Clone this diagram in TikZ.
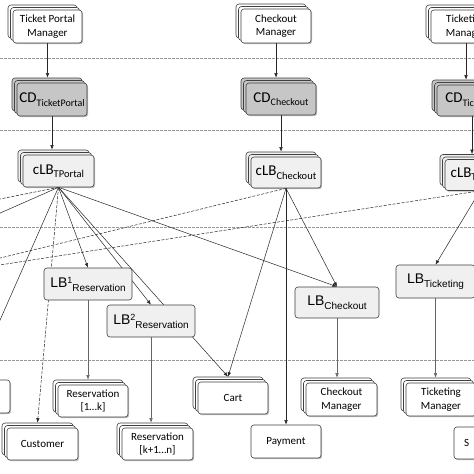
\documentclass[tikz,border=0pt]{standalone}
\usepackage{fontspec}
\setmainfont{Carlito}
\newfontfamily\arialf{Liberation Sans}
\usetikzlibrary{shadows,arrows.meta,calc}
\pgfdeclarelayer{background}
\pgfsetlayers{background,main}
\newcommand\cdlab[2]{{\fontsize{15}{15}\selectfont #1}\raisebox{-3.5pt}{\fontsize{10}{10}\selectfont #2}}
\newcommand\clblab[1]{{\fontsize{15}{15}\selectfont cLB}\raisebox{-3.5pt}{\fontsize{10.5}{10.5}\selectfont #1}}
\newcommand\lblab[2]{{\arialf\fontsize{14}{14}\selectfont LB}\raisebox{4.5pt}{\arialf\fontsize{9}{9}\selectfont #1}\raisebox{-3.5pt}{\arialf\fontsize{10}{10}\selectfont #2}}
\colorlet{linec}{black!75}
\tikzset{
  box/.style={draw=linec, line width=0.6pt, rounded corners=3pt, inner sep=0pt, align=center,
    font=\fontsize{11}{13.5}\selectfont},
  wbox/.style={box, fill=white,
    general shadow={shadow xshift=1.2pt,shadow yshift=-1.2pt,fill=black,opacity=0.25,draw=none}},
  stackbox/.style={box, fill=#1,
    general shadow={shadow xshift=1.2pt,shadow yshift=-1.2pt,fill=black,opacity=0.25,draw=none},
    general shadow={shadow xshift=-5pt,shadow yshift=5pt,draw=linec,line width=0.6pt,fill=#1},
    general shadow={shadow xshift=-2.5pt,shadow yshift=2.5pt,draw=linec,line width=0.6pt,fill=#1}},
  stackw/.style={stackbox=white},
  stackg/.style={stackbox=gray!45},
  stackt/.style={stackbox=gray!12},
  lbbox/.style={box, fill=gray!12},
  conn/.style={draw=black!85, line width=0.5pt, -{Latex[length=4.5pt,width=3.5pt]}},
  plain/.style={draw=black!85, line width=0.5pt},
  dconn/.style={draw=black!85, line width=0.5pt, dash pattern=on 3pt off 1.5pt},
  thinc/.style={draw=black!60, line width=0.5pt, -{Latex[length=4.5pt,width=3.5pt]}},
  sep/.style={draw=gray!80, line width=0.5pt, dash pattern=on 2.5pt off 1.5pt},
}
\begin{document}
\begin{tikzpicture}[x=1pt,y=-1pt]
\useasboundingbox (0,0) rectangle (474,474);
\clip (0,0) rectangle (474,474);

% top row
\node[stackw, minimum width=69pt, minimum height=33pt] (tpm) at (47.5,26.5) {Ticket Portal\\Manager};
\node[stackg, minimum width=70pt, minimum height=33pt] (cdtp) at (52,99.5) {\cdlab{CD}{TicketPortal}};
\node[stackt, minimum width=71pt, minimum height=32pt] (clbtp) at (58.5,171) {\clblab{TPortal}};
\node[stackw, minimum width=70pt, minimum height=34pt] (chm) at (276,26) {Checkout\\Manager};
\node[stackg, minimum width=70pt, minimum height=32pt] (cdch) at (281,99) {\cdlab{CD}{Checkout}};
\node[stackt, minimum width=70pt, minimum height=31pt] (clbch) at (286,172.5) {\clblab{Checkout}};
\node[stackw, minimum width=70pt, minimum height=33pt] (tkm) at (466,26.5) {Ticketing\\Manager};
\node[stackg, minimum width=70pt, minimum height=31pt] (cdtk) at (472,100.5) {\cdlab{CD}{Ticketing}};
\node[stackt, minimum width=70pt, minimum height=31pt] (clbtk) at (480,175) {\clblab{Ticketing}};

% load balancers
\node[lbbox, minimum width=88pt, minimum height=32pt] (lb1) at (88,284) {\lblab{1}{Reservation}};
\node[lbbox, minimum width=88pt, minimum height=32pt] (lb2) at (151,321) {\lblab{2}{Reservation}};
\node[lbbox, minimum width=84pt, minimum height=31pt] (lbch) at (337,302.5) {\lblab{}{Checkout}};
\node[lbbox, minimum width=79pt, minimum height=33pt] (lbtk) at (435.5,281.5) {\lblab{}{Ticketing}};

% bottom row
\node[wbox, minimum width=70pt, minimum height=33pt] (lbox) at (-25,396.5) {};
\node[stackw, minimum width=70pt, minimum height=32pt] (res1) at (93,401) {Reservation\\{[1…k]}};
\node[stackw, minimum width=71pt, minimum height=32pt] (cust) at (42.5,444) {Customer};
\node[stackw, minimum width=71pt, minimum height=32pt] (res2) at (157.5,444) {Reservation\\{[k+1…n]}};
\node[stackw, minimum width=70pt, minimum height=32pt] (cart) at (233,398) {Cart};
\node[wbox, minimum width=70pt, minimum height=33pt] (pay) at (286,441.5) {Payment};
\node[stackw, minimum width=71pt, minimum height=33pt] (chm2) at (341.5,399.5) {Checkout\\Manager};
\node[stackw, minimum width=70pt, minimum height=33pt] (tkm2) at (441,399.5) {Ticketing\\Manager};
\node[wbox, minimum width=70pt, minimum height=32pt, text width=50pt, align=left] (sbox) at (489,443) {S};

% arrow end points
\coordinate (cdtpT) at ([yshift=5pt]cdtp.north);
\coordinate (clbtpT) at ([yshift=5pt]clbtp.north);
\coordinate (cdchT) at ([yshift=5pt]cdch.north);
\coordinate (clbchT) at ([yshift=5pt]clbch.north);
\coordinate (cdtkT) at ([yshift=5pt]cdtk.north);
\coordinate (clbtkT) at ([yshift=5pt]clbtk.north);
\coordinate (res1T) at ([yshift=5pt]res1.north);
\coordinate (res2T) at ([yshift=5pt]res2.north);
\coordinate (chm2T) at ([yshift=5pt]chm2.north);
\coordinate (tkm2T) at ([yshift=5pt]tkm2.north);
\coordinate (cartT) at ([xshift=-5pt,yshift=5pt]cart.north);
\coordinate (custT) at ([xshift=-5pt,yshift=5pt]cust.north);
\coordinate (e1) at (-10,201);
\coordinate (e2) at (-10,217.5);
\coordinate (e3) at (-5,331.5);
\coordinate (e4) at (-10,260.5);
\coordinate (e5) at (-10,266.5);

\begin{pgfonlayer}{background}
\fill[white] (0,0) rectangle (474,474);
% separators
\foreach \yy in {58,130,227,360} \draw[sep] (0,\yy) -- (474,\yy);

\draw[conn] (tpm.south) -- (tpm.south |- cdtpT);
\draw[conn] (cdtp.south) -- (cdtp.south |- clbtpT);
\draw[conn] (chm.south) -- (chm.south |- cdchT);
\draw[conn] (cdch.south) -- (cdch.south |- clbchT);
\draw[conn] (tkm.south) -- (tkm.south |- cdtkT);
\draw[conn] (cdtk.south) -- (cdtk.south |- clbtkT);

% fan from cLB TPortal
\draw[dconn] (clbtp.south) -- (e1);
\draw[plain] (clbtp.south) -- (e2);
\draw[plain] (clbtp.south) -- (e3);
\draw[dconn,-{Latex[length=4.5pt,width=3.5pt]}] (clbtp.south) -- (custT);
\draw[conn] (clbtp.south) -- (lb1.north);
\draw[conn] (clbtp.south) -- (lb2.north);
\draw[conn] (clbtp.south) -- (cartT);
\draw[conn] (clbtp.south) -- (lbch.north);

% fan from cLB Checkout
\draw[dconn] (clbch.south) -- (e4);
\draw[conn] (clbch.south) -- (cartT);
\draw[conn] (clbch.south) -- (pay.north);
\draw[conn] (clbch.south) -- (lbch.north);

% fan from cLB Ticketing
\draw[dconn] (clbtk.south) -- (e5);
\draw[conn] (clbtk.south) -- (lbtk.north);

% LB to services
\draw[thinc] (lb1.south) -- (lb1.south |- res1T);
\draw[thinc] (lb2.south) -- (lb2.south |- res2T);
\draw[thinc] (lbch.south) -- (lbch.south |- chm2T);
\draw[thinc] (lbtk.south) -- (lbtk.south |- tkm2T);
\end{pgfonlayer}
\end{tikzpicture}
\end{document}
